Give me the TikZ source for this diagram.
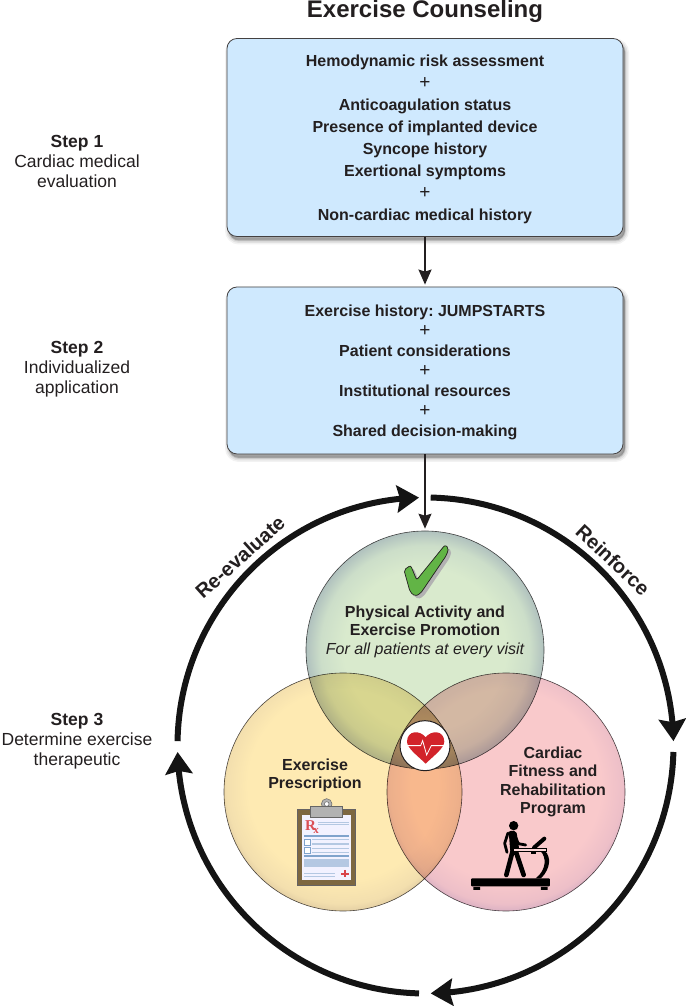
\documentclass[tikz,border=0pt]{standalone}
\usepackage{fontspec}
\setmainfont{Liberation Sans}
\newfontfamily\rxfont{Liberation Serif}
\usetikzlibrary{arrows.meta,shadows,bending,positioning}

\definecolor{inkdark}{HTML}{231F20}
\definecolor{boxblue}{HTML}{CFE9FE}
\definecolor{checkgreen}{HTML}{62B446}
\definecolor{heartred}{HTML}{D2232A}
\definecolor{barblue}{HTML}{7FA3CC}
\definecolor{lineblue}{HTML}{B4C8E2}
\definecolor{boardbrown}{HTML}{7D6740}
\definecolor{treadpink}{HTML}{F9D5D6}

% circle colours, darker at the rim
\definecolor{gA}{HTML}{D9EACD}\definecolor{gB}{HTML}{CCDEC9}\definecolor{gC}{HTML}{B0C1BE}
\definecolor{yA}{HTML}{FEEAB2}\definecolor{yB}{HTML}{F3DFAE}\definecolor{yC}{HTML}{C9B492}
\definecolor{pA}{HTML}{F9C9CB}\definecolor{pB}{HTML}{EDBFC8}\definecolor{pC}{HTML}{BC9ABC}
\pgfdeclareradialshading{venn green}{\pgfpoint{0bp}{0bp}}{color(0bp)=(gA); color(17bp)=(gA); color(22bp)=(gB); color(25bp)=(gC); color(30bp)=(gC)}
\pgfdeclareradialshading{venn yellow}{\pgfpoint{0bp}{3.5bp}}{color(0bp)=(yA); color(20bp)=(yA); color(24.5bp)=(yB); color(28.5bp)=(yC); color(35bp)=(yC)}
\pgfdeclareradialshading{venn pink}{\pgfpoint{0bp}{3.5bp}}{color(0bp)=(pA); color(20bp)=(pA); color(24.5bp)=(pB); color(28.5bp)=(pC); color(35bp)=(pC)}

\newcommand{\plusline}{{\fontsize{19}{19}\selectfont\mdseries +}}

\begin{document}
\begin{tikzpicture}[x=1pt,y=1pt,
  info box/.style={rectangle,rounded corners=10pt,draw=inkdark!85,line width=.8pt,fill=boxblue,
    minimum width=396pt,align=center,text=inkdark,font=\bfseries,
    general shadow={shadow xshift=2pt,shadow yshift=-4pt,fill=black,draw=black,line width=8pt,opacity=.05},
    general shadow={shadow xshift=2pt,shadow yshift=-4pt,fill=black,draw=black,line width=5pt,opacity=.07},
    general shadow={shadow xshift=2pt,shadow yshift=-4pt,fill=black,draw=black,line width=2pt,opacity=.1},
    general shadow={shadow xshift=2pt,shadow yshift=-3pt,fill=black,opacity=.12}},
  step label/.style={align=center,text=inkdark,font=\fontsize{17.5}{20}\selectfont},
  venn node/.style={circle,draw=inkdark!80,line width=.6pt,minimum size=238pt,inner sep=0pt},
  venn label/.style={align=center,text=inkdark,font=\fontsize{16}{18.5}\selectfont\bfseries},
  ring label/.style={text=inkdark,font=\fontsize{20}{24}\selectfont\bfseries},
  link/.style={-{Stealth[length=15pt,width=13pt,inset=2pt]},line width=1.5pt,draw=inkdark,shorten >=2pt},
  ring arc/.style={-{Stealth[length=22pt,width=27pt,inset=3pt,flex]},line width=6pt,draw=black!92}]

  \useasboundingbox (0,0) rectangle (685,1006);

  \node[text=inkdark,font=\fontsize{24}{28}\selectfont\bfseries] (title) at (425,994.5) {Exercise Counseling};

  \node[info box,minimum height=198pt,font=\fontsize{16}{22}\selectfont\bfseries] (box1) at (425,868.5)
    {\rule{0pt}{15.5pt}Hemodynamic risk assessment\\ \plusline\\ Anticoagulation status\\ Presence of implanted device\\
     Syncope history\\ Exertional symptoms\\ \plusline\\ Non-cardiac medical history};
  \node[info box,minimum height=167pt,font=\fontsize{16}{20}\selectfont\bfseries] (box2) at (425,635.5)
    {\rule{0pt}{15.5pt}Exercise history:\ JUMPSTARTS\\ \plusline\\ Patient considerations\\ \plusline\\
     Institutional resources\\ \plusline\\ Shared decision-making};

  \node[step label] (step1) at (77,845) {\textbf{Step 1}\\ Cardiac medical\\ evaluation};
  \node[step label] (step2) at (77,637) {\textbf{Step 2}\\ Individualized\\ application};
  \node[step label] (step3) at (77,265) {\textbf{Step 3}\\ Determine exercise\\ therapeutic};

  % the three circles multiply where they overlap
  \begin{scope}[blend mode=multiply]
    \node[venn node,shading=venn yellow] (vennLeft) at (343,214) {};
    \node[venn node,shading=venn pink] (vennRight) at (506,214) {};
    \node[venn node,shading=venn green] (vennTop) at (425,356) {};
    \begin{scope}
      \clip (vennLeft) circle[radius=119];
      \clip (vennRight) circle[radius=119];
      \fill[fill=black!15] (vennTop) circle[radius=119];
    \end{scope}
  \end{scope}

  \draw[link] (box1.south) -- (box2.north);
  \draw[link] (box2.south) -- (vennTop.north);

  % outer ring
  \coordinate (ringC) at (425.5,260.5);
  \foreach \a/\b in {179/91.5, 88.8/1, -1.5/-88.8, -91.5/-178.5}
    \draw[ring arc] ([shift={(\a:248)}]ringC) arc[start angle=\a,end angle=\b,radius=248];

  \node[ring label,rotate=42] (reeval) at (240,449) {Re-evaluate};
  \node[ring label,rotate=-43] (reinforce) at (613,446) {Reinforce};

  \node[venn label] (promo) at (425,374.5)
    {Physical Activity and\\ Exercise Promotion\\ {\mdseries\itshape For all patients at every visit}};
  \node[venn label] (rxlabel) at (315,230.5) {Exercise\\ Prescription};
  \node[venn label] (rehab) at (553,224) {Cardiac\\ Fitness and\\ Rehabilitation\\ Program};

  \node[circle,draw=inkdark,line width=1pt,fill=white,minimum size=50pt,inner sep=0pt] (badge) at (425,260.3) {};

  % check mark and heart, traced from the 3x crop
  \begin{scope}[shift={(200,526)},x=.3333pt,y=-.3333pt]
    \path[fill=black!30,rounded corners=2pt,shift={(9,9)}]
      (612,270) -- (632,256) -- (650,300) -- (735,195) -- (746,204) -- (740,225) -- (662,340) -- (645,349) -- (630,335) -- cycle;
    \path[fill=checkgreen,draw=inkdark,line width=.7pt,rounded corners=2pt]
      (612,270) -- (632,256) -- (650,300) -- (735,195) -- (746,204) -- (740,225) -- (662,340) -- (645,349) -- (630,335) -- cycle;
    \fill[heartred] (677,772) .. controls (660,750) and (622,750) .. (621,785)
      .. controls (622,805) and (650,825) .. (677,851) .. controls (704,825) and (732,805) .. (733,785)
      .. controls (732,750) and (694,750) .. (677,772) -- cycle;
    \draw[white,line width=.8pt] (622,797) -- (662,797) -- (668,782) -- (680,825) -- (694,797) -- (732,797);
  \end{scope}

  % clipboard, same way
  \begin{scope}[shift={(290,211)},x=.3333pt,y=-.3333pt]
    \fill[boardbrown,draw=inkdark!70,line width=.4pt] (22,42) rectangle (197,270);
    \fill[white!95!blue] (36,60) rectangle (182,256);
    \fill[black!30,draw=black!60,line width=.5pt] (110,27) circle[radius=16];
    \fill[white,draw=black!60,line width=.5pt] (110,27) circle[radius=7];
    \fill[black!30,draw=black!60,line width=.5pt] (62,35) rectangle (158,67);
    \node[text=heartred!80,inner sep=0pt,font=\rxfont\fontsize{15}{15}\selectfont\bfseries] (rx) at (66,97)
      {R\kern-2.5pt\raisebox{-2.5pt}{\fontsize{11}{11}\selectfont x}};
    \foreach \y in {82,90} \draw[lineblue,line width=1pt] (85,\y) -- (178,\y);
    \foreach \y in {122,184} \draw[barblue,line width=2pt] (42,\y) -- (178,\y);
    \foreach \y in {134,147,160,172} \draw[lineblue,line width=1.3pt] (66,\y) -- (178,\y);
    \foreach \y in {132,157} \draw[barblue,line width=.6pt,fill=white] (43,\y) rectangle (61,\y+18);
    \fill[lineblue] (42,192) rectangle (178,217);
    \foreach \y in {237,244} \draw[lineblue,line width=1pt] (42,\y) -- (135,\y);
    \draw[heartred!85,line width=2.2pt] (154,236) -- (177,236) (165.5,225) -- (165.5,247);
  \end{scope}

  % treadmill
  \begin{scope}[shift={(465,191)},x=.3333pt,y=-.3333pt]
    \fill[black,rounded corners=1pt] (18,190) rectangle (255,214);
    \fill[black] (25,216) rectangle (45,225) (228,216) rectangle (248,225);
    \fill[black] (146,32) circle[radius=14];
    \fill[black,rounded corners=2pt] (131,48) -- (154,48) -- (164,112) -- (136,112) -- cycle;
    \draw[black,line width=4.6pt,line cap=round,line join=round] (143,108) -- (124,180) (152,108) -- (176,180);
    \draw[black,line width=2.8pt,line cap=round,line join=round] (129,54) -- (119,85) -- (126,112) (150,62) -- (160,86) -- (182,90);
    \draw[black,line width=4pt,line cap=round] (207,98) -- (238,71);
    \fill[black] (198,110) rectangle (212,116);
    \fill[black] (226,108) .. controls (245,125) and (245,165) .. (212,190) -- (228,190)
      .. controls (258,160) and (258,125) .. (240,108) -- cycle;
    \draw[black,line width=.9pt,fill=treadpink] (145,100) rectangle (245,109);
  \end{scope}
\end{tikzpicture}
\end{document}
